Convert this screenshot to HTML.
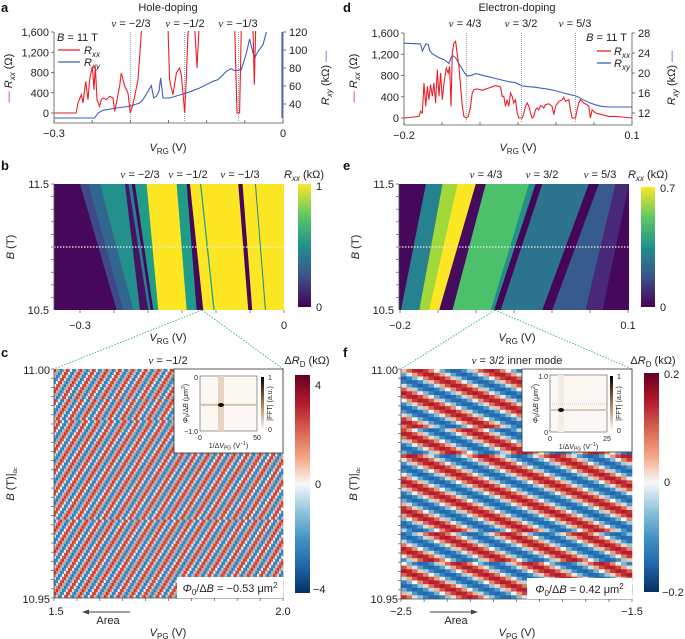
<!DOCTYPE html>
<html><head><meta charset="utf-8">
<style>
html,body{margin:0;padding:0;background:#fff;}
svg{display:block;font-family:"Liberation Sans",sans-serif;}
.t{font-size:11px;fill:#222;}
.s{font-size:7px;fill:#222;}
.nu{font-family:"Liberation Serif",serif;font-style:italic;}
.lt{font-size:13px;font-weight:bold;fill:#111;}
</style></head><body>
<svg id="fig" width="685" height="639" viewBox="0 0 685 639" xmlns="http://www.w3.org/2000/svg">
<defs>
<clipPath id="clipA"><rect x="54" y="31" width="229" height="93"/></clipPath>
<clipPath id="clipD"><rect x="404" y="31" width="228" height="93"/></clipPath>
<clipPath id="clipB"><rect x="54" y="184" width="230" height="126"/></clipPath>
<clipPath id="clipE"><rect x="399" y="184" width="230" height="126"/></clipPath>
<linearGradient id="vir" x1="0" y1="1" x2="0" y2="0">
<stop offset="0" stop-color="#440154"/><stop offset="0.25" stop-color="#3b528b"/><stop offset="0.5" stop-color="#21918c"/><stop offset="0.75" stop-color="#5ec962"/><stop offset="1" stop-color="#fde725"/></linearGradient>
<linearGradient id="rdbu" x1="0" y1="1" x2="0" y2="0">
<stop offset="0" stop-color="#053061"/><stop offset="0.125" stop-color="#2166ac"/><stop offset="0.25" stop-color="#4393c3"/><stop offset="0.375" stop-color="#92c5de"/><stop offset="0.5" stop-color="#f7f7f7"/><stop offset="0.625" stop-color="#f4a582"/><stop offset="0.75" stop-color="#d6604d"/><stop offset="0.875" stop-color="#b2182b"/><stop offset="1" stop-color="#67001f"/></linearGradient>
<linearGradient id="fftc" x1="0" y1="1" x2="0" y2="0"><stop offset="0" stop-color="#fff"/><stop offset="0.5" stop-color="#b07a4a"/><stop offset="1" stop-color="#000"/></linearGradient>
</defs>

<text class="lt" x="1" y="12">a</text>
<text class="lt" x="1" y="170">b</text>
<text class="lt" x="1" y="357">c</text>
<text class="lt" x="343" y="12">d</text>
<text class="lt" x="343" y="170">e</text>
<text class="lt" x="343" y="357">f</text>

<g>
<text class="t" x="168" y="11" text-anchor="middle" font-size="12">Hole-doping</text>
<text class="t" x="131" y="27" text-anchor="middle"><tspan class="nu">ν</tspan> = −2/3</text>
<text class="t" x="185" y="27" text-anchor="middle"><tspan class="nu">ν</tspan> = −1/2</text>
<text class="t" x="238" y="27" text-anchor="middle"><tspan class="nu">ν</tspan> = −1/3</text>
<text class="t" x="168" y="151" text-anchor="middle"><tspan font-style="italic">V</tspan><tspan font-size="8" dy="3">RG</tspan><tspan dy="-3"> (V)</tspan></text>
<text class="t" transform="translate(12,78) rotate(-90)" text-anchor="middle"><tspan fill="#e8202a">—</tspan> <tspan font-style="italic">R</tspan><tspan font-size="8" font-style="italic" dy="3">xx</tspan><tspan dy="-3"> (Ω)</tspan></text>
<text class="t" transform="translate(329,78) rotate(-90)" text-anchor="middle"><tspan font-style="italic">R</tspan><tspan font-size="8" font-style="italic" dy="3">xy</tspan><tspan dy="-3"> (kΩ) </tspan><tspan fill="#3a62c0">—</tspan></text>
<text class="t" x="57" y="41" font-size="12"><tspan font-style="italic">B</tspan> = 11 T</text>
<line x1="58" y1="50" x2="80" y2="50" stroke="#e8202a" stroke-width="1.3"/>
<text class="t" x="84" y="54" font-style="italic" font-size="12">R<tspan font-size="8" dy="3">xx</tspan></text>
<line x1="58" y1="62" x2="80" y2="62" stroke="#3a62c0" stroke-width="1.3"/>
<text class="t" x="84" y="66" font-style="italic" font-size="12">R<tspan font-size="8" dy="3">xy</tspan></text>
</g>

<g>
<text class="t" x="517" y="11" text-anchor="middle" font-size="12">Electron-doping</text>
<text class="t" x="465" y="27" text-anchor="middle"><tspan class="nu">ν</tspan> = 4/3</text>
<text class="t" x="521" y="27" text-anchor="middle"><tspan class="nu">ν</tspan> = 3/2</text>
<text class="t" x="575" y="27" text-anchor="middle"><tspan class="nu">ν</tspan> = 5/3</text>
<text class="t" x="518" y="151" text-anchor="middle"><tspan font-style="italic">V</tspan><tspan font-size="8" dy="3">RG</tspan><tspan dy="-3"> (V)</tspan></text>
<text class="t" transform="translate(357,78) rotate(-90)" text-anchor="middle"><tspan fill="#e8202a">—</tspan> <tspan font-style="italic">R</tspan><tspan font-size="8" font-style="italic" dy="3">xx</tspan><tspan dy="-3"> (Ω)</tspan></text>
<text class="t" transform="translate(675,78) rotate(-90)" text-anchor="middle"><tspan font-style="italic">R</tspan><tspan font-size="8" font-style="italic" dy="3">xy</tspan><tspan dy="-3"> (kΩ) </tspan><tspan fill="#3a62c0">—</tspan></text>
<text class="t" x="627" y="41" text-anchor="end" font-size="12"><tspan font-style="italic">B</tspan> = 11 T</text>
<line x1="597" y1="51" x2="611" y2="51" stroke="#e8202a" stroke-width="1.3"/>
<text class="t" x="614" y="55" font-style="italic" font-size="12">R<tspan font-size="8" dy="3">xx</tspan></text>
<line x1="597" y1="63" x2="611" y2="63" stroke="#3a62c0" stroke-width="1.3"/>
<text class="t" x="614" y="67" font-style="italic" font-size="12">R<tspan font-size="8" dy="3">xy</tspan></text>
</g>

<g>
<text class="t" x="140" y="178" text-anchor="middle"><tspan class="nu">ν</tspan> = −2/3</text>
<text class="t" x="188" y="178" text-anchor="middle"><tspan class="nu">ν</tspan> = −1/2</text>
<text class="t" x="240" y="178" text-anchor="middle"><tspan class="nu">ν</tspan> = −1/3</text>
<text class="t" x="304" y="178" text-anchor="middle"><tspan font-style="italic">R</tspan><tspan font-size="8" font-style="italic" dy="3">xx</tspan><tspan dy="-3"> (kΩ)</tspan></text>
<text class="t" transform="translate(14,247) rotate(-90)" text-anchor="middle"><tspan font-style="italic">B</tspan> (T)</text>
<text class="t" x="49" y="188" text-anchor="end">11.5</text>
<text class="t" x="49" y="314" text-anchor="end">10.5</text>
<text class="t" x="80" y="329" text-anchor="middle">−0.3</text>
<text class="t" x="284" y="329" text-anchor="middle">0</text>
<text class="t" x="168" y="341" text-anchor="middle"><tspan font-style="italic">V</tspan><tspan font-size="8" dy="3">RG</tspan><tspan dy="-3"> (V)</tspan></text>
<rect x="298" y="184" width="13" height="123" fill="url(#vir)"/>
<text class="t" x="316" y="190">1</text>
<text class="t" x="316" y="311">0</text>
</g>
<g>
<text class="t" x="486" y="178" text-anchor="middle"><tspan class="nu">ν</tspan> = 4/3</text>
<text class="t" x="542" y="178" text-anchor="middle"><tspan class="nu">ν</tspan> = 3/2</text>
<text class="t" x="600" y="178" text-anchor="middle"><tspan class="nu">ν</tspan> = 5/3</text>
<text class="t" x="648" y="178" text-anchor="middle"><tspan font-style="italic">R</tspan><tspan font-size="8" font-style="italic" dy="3">xx</tspan><tspan dy="-3"> (kΩ)</tspan></text>
<text class="t" transform="translate(359,247) rotate(-90)" text-anchor="middle"><tspan font-style="italic">B</tspan> (T)</text>
<text class="t" x="394" y="188" text-anchor="end">11.5</text>
<text class="t" x="394" y="314" text-anchor="end">10.5</text>
<text class="t" x="400" y="329" text-anchor="middle">−0.2</text>
<text class="t" x="628" y="329" text-anchor="middle">0.1</text>
<text class="t" x="517" y="341" text-anchor="middle"><tspan font-style="italic">V</tspan><tspan font-size="8" dy="3">RG</tspan><tspan dy="-3"> (V)</tspan></text>
<rect x="641" y="187" width="14" height="120" fill="url(#vir)"/>
<text class="t" x="660" y="192">0.7</text>
<text class="t" x="660" y="311">0</text>
</g>

<g>
<text class="t" x="168" y="364" text-anchor="middle"><tspan class="nu">ν</tspan> = −1/2</text>
<text class="t" x="307" y="364" text-anchor="middle">Δ<tspan font-style="italic">R</tspan><tspan font-size="8" dy="3">D</tspan><tspan dy="-3"> (kΩ)</tspan></text>
<text class="t" transform="translate(14,484) rotate(-90)" text-anchor="middle"><tspan font-style="italic">B</tspan> (T)|<tspan font-size="6" dy="3">α<tspan font-size="5">c</tspan></tspan></text>
<text class="t" x="50" y="374" text-anchor="end">11.00</text>
<text class="t" x="50" y="603" text-anchor="end">10.95</text>
<text class="t" x="56" y="615" text-anchor="middle">1.5</text>
<text class="t" x="283" y="615" text-anchor="middle">2.0</text>
<line x1="130" y1="612" x2="85" y2="612" stroke="#444" stroke-width="1"/>
<path d="M82 612 L89 609.5 L89 614.5 Z" fill="#444"/>
<text class="t" x="108" y="624" text-anchor="middle">Area</text>
<text class="t" x="168" y="636" text-anchor="middle"><tspan font-style="italic">V</tspan><tspan font-size="8" dy="3">PG</tspan><tspan dy="-3"> (V)</tspan></text>
<rect x="295" y="375" width="15" height="218" fill="url(#rdbu)"/>
<text class="t" x="315" y="389">4</text>
<text class="t" x="315" y="488">0</text>
<text class="t" x="313" y="593">−4</text>
</g>
<g>
<text class="t" x="517" y="364" text-anchor="middle"><tspan class="nu">ν</tspan> = 3/2 inner mode</text>
<text class="t" x="653" y="364" text-anchor="middle">Δ<tspan font-style="italic">R</tspan><tspan font-size="8" dy="3">D</tspan><tspan dy="-3"> (kΩ)</tspan></text>
<text class="t" transform="translate(357,484) rotate(-90)" text-anchor="middle"><tspan font-style="italic">B</tspan> (T)|<tspan font-size="6" dy="3">α<tspan font-size="5">c</tspan></tspan></text>
<text class="t" x="398" y="374" text-anchor="end">11.00</text>
<text class="t" x="398" y="603" text-anchor="end">10.95</text>
<text class="t" x="401" y="615" text-anchor="middle">−2.5</text>
<text class="t" x="632" y="615" text-anchor="middle">−1.5</text>
<line x1="430" y1="612" x2="475" y2="612" stroke="#444" stroke-width="1"/>
<path d="M478 612 L471 609.5 L471 614.5 Z" fill="#444"/>
<text class="t" x="456" y="624" text-anchor="middle">Area</text>
<text class="t" x="517" y="636" text-anchor="middle"><tspan font-style="italic">V</tspan><tspan font-size="8" dy="3">PG</tspan><tspan dy="-3"> (V)</tspan></text>
<rect x="644" y="373" width="15" height="219" fill="url(#rdbu)"/>
<text class="t" x="664" y="378">0.2</text>
<text class="t" x="664" y="486">0</text>
<text class="t" x="662" y="596">−0.2</text>
</g>

<g id="dyn"></g>
</svg>
<script>
// ---------- Panel a data ----------
const aRxxV=[-0.300,-0.271,-0.2686,-0.2642,-0.2620,-0.2585,-0.2555,-0.2533,-0.2498,-0.2476,-0.2459,-0.2437,-0.2402,-0.2380,-0.2358,-0.2314,-0.2271,-0.2227,-0.2205,-0.2183,-0.2140,-0.2118,-0.2074,-0.2031,-0.2000,-0.1974,-0.1943,-0.1900,-0.1856,-0.1843,null,-0.1507,-0.1485,-0.1463,-0.1441,-0.1397,-0.1354,-0.1332,-0.1288,-0.1266,-0.1244,-0.1222,null,-0.1157,-0.1127,-0.1100,null,-0.0633,-0.0603,-0.0568,-0.0546,null,-0.0393,-0.0376,-0.0358];
const aRxxVal=[0,0,198,362,198,625,263,658,922,461,922,263,132,263,296,263,329,296,33,198,527,790,527,395,0,132,329,658,1580,1680,null,1680,659,494,362,790,889,757,0,724,1580,1680,null,1680,889,1680,null,1680,0,0,1680,null,1680,560,1680];
const aRxyV=[-0.300,-0.2467,-0.2424,-0.2358,-0.2183,-0.2009,-0.1943,-0.1878,-0.1834,-0.1769,-0.1725,-0.1694,-0.1659,-0.1624,-0.1603,-0.1572,-0.1485,-0.1310,-0.1201,-0.1092,-0.0917,-0.0851,-0.0742,-0.0677,-0.0633,-0.0546,-0.0480,-0.0437,-0.0393,-0.0371,-0.0328,-0.0262,-0.0218];
const aRxyVal=[24.4,24.4,30.0,33.0,35.6,37.4,39.3,41.1,44.8,54.1,60.4,46.7,48.5,54.1,68.9,46.7,46.7,51.1,54.1,57.8,65.2,67.0,76.3,79.3,77.0,78.1,96.7,112.2,96.7,91.1,98.5,105.9,120];
const aNuV=[-0.200,-0.1288,-0.0581];
const aLeftTicks=[0,400,800,1200,1600];
const aLeftLabels=["0","400","800","1,200","1,600"];
const aRightTicks=[40,60,80,100,120];
const aXTicks=[-0.3,-0.25,-0.2,-0.15,-0.1,-0.05,0];
const aXLabels=["−0.3","","","","","","0"];
// ---------- Panel d data ----------
const dRxxV=[-0.2000,-0.1803,-0.1781,-0.1759,-0.1737,-0.1715,-0.1693,-0.1672,-0.1650,-0.1628,-0.1606,-0.1584,-0.1562,-0.1540,-0.1518,-0.1496,-0.1474,-0.1444,-0.1418,-0.1400,-0.1382,-0.1365,-0.1343,-0.1321,-0.1299,-0.1277,-0.1255,-0.1233,-0.1212,-0.1181,-0.1155,-0.1124,-0.1102,-0.1080,-0.1037,-0.0971,-0.0883,-0.0796,-0.0752,-0.0730,-0.0708,-0.0687,-0.0665,-0.0643,-0.0621,-0.0599,-0.0577,-0.0555,-0.0533,-0.0511,-0.0489,-0.0445,-0.0423,-0.0401,-0.0379,-0.0357,-0.0336,-0.0314,-0.0292,-0.0270,-0.0248,-0.0226,-0.0204,-0.0182,-0.0160,-0.0139,-0.0095,-0.0051,-0.0029,-0.0007,0.0037,0.0081,0.0102,0.0124,0.0168,0.0190,0.0212,0.0256,0.0278,0.0300,0.0321,0.0343,0.0365,0.0409,0.0431,0.0453,0.0475,0.0519,0.0606,0.0694,0.0781,0.0869,0.1000];
const dRxxVal=[0,31,126,94,659,220,596,345,628,408,659,282,910,408,847,345,659,941,847,973,220,1224,1412,1443,1192,973,596,220,31,0,31,220,471,534,547,521,565,609,596,584,408,408,220,345,220,471,408,282,345,94,0,0,94,220,282,220,94,0,31,157,188,157,232,220,188,251,270,220,63,220,314,345,389,314,345,157,0,0,157,282,345,314,282,251,220,0,157,94,63,31,31,19,0];
const dRxyV=[-0.2000,-0.1781,-0.1759,-0.1715,-0.1680,-0.1663,-0.1628,-0.1540,-0.1474,-0.1431,-0.1409,-0.1387,-0.1365,-0.1321,-0.1277,-0.1212,-0.1168,-0.1102,-0.1058,-0.0971,-0.0883,-0.0796,-0.0708,-0.0621,-0.0533,-0.0445,-0.0357,-0.0270,-0.0182,-0.0095,-0.0007,0.0081,0.0168,0.0256,0.0300,0.0343,0.0431,0.0519,0.0606,0.0694,0.1000];
const dRxyVal=[25.96,25.83,24.38,25.83,25.70,24.51,23.85,23.06,22.67,22.21,21.88,22.86,23.52,23.06,21.88,20.23,19.37,19.57,19.90,19.57,19.24,18.91,18.58,18.26,18.06,17.40,17.27,17.14,16.94,16.74,16.48,16.08,15.75,15.42,15.16,14.77,14.11,13.65,13.32,13.19,13.19];
const dNuV=[-0.1181,-0.0454,0.0256];
const dRightTicks=[12,16,20,24,28];
const dXTicks=[-0.2,-0.15,-0.1,-0.05,0,0.05,0.1];
const dXLabels=["−0.2","","","","","","0.1"];
// ---------- Panel b bands ----------
const bBandTL=[-0.3,-0.2878,-0.2706,-0.2338,-0.2289,-0.2240,-0.2192,-0.2020,-0.1579,-0.1432,-0.1383,-0.0673,-0.0609,-0.1236,-0.0428];
const bBandTR=[-0.2878,-0.2706,-0.2338,-0.2289,-0.2240,-0.2192,-0.2020,-0.1579,-0.1432,-0.1383,-0.0673,-0.0609,0,-0.1222,-0.0418];
const bBandBL=[-0.2461,-0.2363,-0.2216,-0.2118,-0.1996,-0.1960,-0.1922,-0.1849,-0.1432,-0.1285,-0.1187,-0.0526,-0.0467,-0.1040,-0.0281];
const bBandBR=[-0.2363,-0.2216,-0.2118,-0.1996,-0.1960,-0.1922,-0.1849,-0.1432,-0.1285,-0.1187,-0.0526,-0.0467,0,-0.1025,-0.0271];
const bBandVal=[0.22,0.33,0.5,0.05,0.42,0.02,0.55,1,0.55,0.02,1,0.02,1,0.6,0.5];
// ---------- Panel e bands ----------
const eBandTL=[-0.1659,-0.1440,-0.1243,-0.1003,-0.0872,-0.0303,-0.0216,-0.0128,0.0484,0.0615,0.0834];
const eBandTR=[-0.1440,-0.1243,-0.1003,-0.0872,-0.0303,-0.0216,-0.0128,0.0484,0.0615,0.0834,0.1009];
const eBandBL=[-0.1987,-0.1746,-0.1615,-0.1484,-0.1309,-0.0806,-0.0762,-0.0675,-0.0128,0.0003,0.0440];
const eBandBR=[-0.1746,-0.1615,-0.1484,-0.1309,-0.0806,-0.0762,-0.0675,-0.0128,0.0003,0.0440,0.0659];
const eBandVal=[0.31,0.6,0.7,0.02,0.5,0.35,0.01,0.27,0.01,0.2,0.08];
// ---------- Panels c,f oscillation parameters ----------
const cPeriodV=[0.0284];
const cPeriodB=[0.0046];
const cAmp=[2.6];
const cBlockEdges=[11.0,10.9934,10.9885,10.9674,10.95];
const cBlockPhase=[0,3.1,1.2,2.4];
const fPeriodV=[0.31];
const fPeriodB=[0.0062];
const fAmp=[0.15];
const fBlockEdges=[11.0,10.9874,10.9812,10.9645,10.9583,10.95];
const fBlockPhase=[0,2.5,0.6,3.0,1.4];

const NS="http://www.w3.org/2000/svg";
const dyn=document.getElementById('dyn');
function mk(tag,attrs,parent){const e=document.createElementNS(NS,tag);for(const k in attrs)e.setAttribute(k,attrs[k]);(parent||dyn).appendChild(e);return e;}
function lin(d0,d1,r0,r1){return v=>r0+(v-d0)*(r1-r0)/(d1-d0);}
function pathFrom(xs,ys,sx,sy){let d="",pen=false;for(let i=0;i<xs.length;i++){if(xs[i]===null){pen=false;continue;}d+=(pen?"L":"M")+sx(xs[i]).toFixed(1)+" "+sy(ys[i]).toFixed(1);pen=true;}return d;}
function interp(stops,t){t=Math.max(0,Math.min(1,t));const n=stops.length-1;const i=Math.min(n-1,Math.floor(t*n));const f=t*n-i;const a=stops[i],b=stops[i+1];return "rgb("+[0,1,2].map(k=>Math.round(a[k]+(b[k]-a[k])*f)).join(",")+")";}
const VIR=[[68,1,84],[72,40,120],[62,74,137],[49,104,142],[38,130,142],[31,158,137],[53,183,121],[109,205,89],[180,222,44],[253,231,37]];
const RDBU=[[5,48,97],[33,102,172],[67,147,195],[146,197,222],[247,247,247],[244,165,130],[214,96,77],[178,24,43],[103,0,31]];

function linePanel(o){
  const g=mk('g',{});
  
  
  const sx=lin(o.x0,o.x1,o.px0,o.px1), syL=lin(o.l0,o.l1,o.py0L,o.py1L), syR=lin(o.r0,o.r1,o.py0R,o.py1R);
  o.nu.forEach((v,i)=>{const l=mk('line',{x1:sx(v),x2:sx(v),y1:o.top,y2:o.bot-2,stroke:'#888','stroke-width':0.8,'stroke-dasharray':'1,1'},g);
    
    });
  const cg=mk('g',{'clip-path':'url(#'+o.clip+')'},g);
  const pr=mk('path',{d:pathFrom(o.rxyV,o.rxyVal,sx,syR),fill:'none',stroke:'#3a62c0','stroke-width':1.1},cg);
  
  
  const px=mk('path',{d:pathFrom(o.rxxV,o.rxxVal,sx,syL),fill:'none',stroke:'#e8202a','stroke-width':1.1},cg);
  
  
  const ax=mk('path',{d:`M${o.px0} ${o.top}V${o.bot}H${o.px1}V${o.top}`,fill:'none',stroke:'#555','stroke-width':0.8},g);
  
  
  o.lt.forEach((v,i)=>{mk('line',{x1:o.px0-3,x2:o.px0,y1:syL(v),y2:syL(v),stroke:'#555','stroke-width':0.8},g);
    const t=mk('text',{x:o.px0-5,y:syL(v)+4,'text-anchor':'end',class:'t','font-size':12},g);t.textContent=o.ll[i];
    
    });
  o.rt.forEach(v=>{mk('line',{x1:o.px1,x2:o.px1+3,y1:syR(v),y2:syR(v),stroke:'#555','stroke-width':0.8},g);
    const t=mk('text',{x:o.px1+6,y:syR(v)+4,class:'t','font-size':12},g);t.textContent=String(v);
    
    });
  o.xt.forEach((v,i)=>{mk('line',{x1:sx(v),x2:sx(v),y1:o.bot,y2:o.bot-3,stroke:'#555','stroke-width':0.8},g);
    if(o.xl[i]){const t=mk('text',{x:sx(v),y:o.bot+14,'text-anchor':'middle',class:'t','font-size':12},g);t.textContent=o.xl[i];
    
    }});
}
linePanel({name:'a',x0:-0.3,x1:0,px0:54,px1:283,l0:0,l1:1600,py0L:113,py1L:32,r0:40,r1:120,py0R:104,py1R:32,top:32,bot:123,clip:'clipA',
  rxxV:aRxxV,rxxVal:aRxxVal,rxyV:aRxyV,rxyVal:aRxyVal,nu:aNuV,lt:aLeftTicks,ll:aLeftLabels,rt:aRightTicks,xt:aXTicks,xl:aXLabels});
mk('line',{x1:282,x2:282,y1:32,y2:118,stroke:'#3a62c0','stroke-width':1.2});
linePanel({name:'d',x0:-0.2,x1:0.1,px0:404,px1:632,l0:0,l1:1600,py0L:118,py1L:33,r0:12,r1:28,py0R:113,py1R:33,top:33,bot:125,clip:'clipD',
  rxxV:dRxxV,rxxVal:dRxxVal,rxyV:dRxyV,rxyVal:dRxyVal,nu:dNuV,lt:aLeftTicks,ll:aLeftLabels,rt:dRightTicks,xt:dXTicks,xl:dXLabels});

function bandPanel(o){
  const g=mk('g',{'clip-path':'url(#'+o.clip+')'});
  
  
  const sx=lin(o.x0,o.x1,o.px0,o.px1);
  const bg=mk('rect',{x:o.left,y:o.top,width:o.right-o.left,height:o.bot-o.top,fill:interp(VIR,0.02)},g);
  
  
  for(let i=0;i<o.tl.length;i++){
    const p=mk('polygon',{points:`${sx(o.tl[i])},${o.top} ${sx(o.tr[i])+0.4},${o.top} ${sx(o.br[i])+0.4},${o.bot} ${sx(o.bl[i])},${o.bot}`,fill:interp(VIR,o.val[i]/o.vmax)},g);
    
    
  }
  const wl=mk('line',{x1:o.left,x2:o.right,y1:247,y2:247,stroke:'#eee','stroke-width':1.2,'stroke-dasharray':'1.5,1.5'},g);
  
  
  const ax=mk('path',{d:`M${o.left} ${o.top}V${o.bot}`,fill:'none',stroke:'#555','stroke-width':0.8});
  
  
  for(let y=o.top;y<=o.bot;y+=12.6)mk('line',{x1:o.left-3,x2:o.left,y1:y,y2:y,stroke:'#555','stroke-width':0.7});
  o.xt.forEach(v=>mk('line',{x1:sx(v),x2:sx(v),y1:o.bot,y2:o.bot+3,stroke:'#555','stroke-width':0.7}));
}
bandPanel({name:'b',clip:'clipB',x0:-0.3,x1:0,px0:80,px1:284,left:54,right:284,top:184,bot:310,tl:bBandTL,tr:bBandTR,bl:bBandBL,br:bBandBR,val:bBandVal,vmax:1,xt:[-0.3,-0.25,-0.2,-0.15,-0.1,-0.05,0]});
bandPanel({name:'e',clip:'clipE',x0:-0.2,x1:0.1,px0:400,px1:628,left:399,right:629,top:184,bot:310,tl:eBandTL,tr:eBandTR,bl:eBandBL,br:eBandBR,val:eBandVal,vmax:0.7,xt:[-0.2,-0.15,-0.1,-0.05,0,0.05,0.1]});

[[202,310,54,369],[202,310,283,369],[495,310,401,369],[495,310,632,369]].forEach(s=>{
  const l=mk('line',{x1:s[0],y1:s[1],x2:s[2],y2:s[3],stroke:'#2db36b','stroke-width':0.9,'stroke-dasharray':'1.5,1.5'});
  
  
});

function oscPanel(o){
  const g=mk('g',{});
  
  
  const cw=(o.right-o.left)/o.nc, rh=(o.bot-o.top)/o.nr;
  for(let r=0;r<o.nr;r++){
    const B=o.b1-(r+0.5)*(o.b1-o.b0)/o.nr;
    let blk=0;for(let k=0;k<o.edges.length-1;k++){if(B<=o.edges[k]&&B>=o.edges[k+1])blk=k;}
    for(let c=0;c<o.nc;c++){
      const V=o.v0+(c+0.5)*(o.v1-o.v0)/o.nc;
      const val=o.amp[0]*Math.sin(2*Math.PI*((V-o.v0)/o.pv[0]+o.sgn*(B-o.b0)/o.pb[0])+o.phase[blk]);
      const rc=mk('rect',{x:(o.left+c*cw).toFixed(2),y:(o.top+r*rh).toFixed(2),width:(cw+0.3).toFixed(2),height:(rh+0.3).toFixed(2),fill:interp(RDBU,0.5+val/(2*o.vmax))},g);
      
      
    }
  }
  const ax=mk('path',{d:`M${o.left} ${o.top}V${o.bot}H${o.right}`,fill:'none',stroke:'#555','stroke-width':0.8});
  
  
  for(let y=o.top;y<=o.bot+0.1;y+=(o.bot-o.top)/25)mk('line',{x1:o.left-3,x2:o.left,y1:y,y2:y,stroke:'#555','stroke-width':0.7});
  for(let x=o.left;x<=o.right+0.1;x+=(o.right-o.left)/10)mk('line',{x1:x,x2:x,y1:o.bot,y2:o.bot+3,stroke:'#555','stroke-width':0.7});
}
oscPanel({name:'c',v0:1.5,v1:2.0,b0:10.95,b1:11.0,left:54,right:283,top:369,bot:598,nc:115,nr:76,pv:cPeriodV,pb:cPeriodB,amp:cAmp,vmax:4,sgn:-1,edges:cBlockEdges,phase:cBlockPhase});
oscPanel({name:'f',v0:-2.5,v1:-1.5,b0:10.95,b1:11.0,left:401,right:632,top:369,bot:599,nc:42,nr:62,pv:fPeriodV,pb:fPeriodB,amp:fAmp,vmax:0.2,sgn:1,edges:fBlockEdges,phase:fBlockPhase});

function inset(o){
  const g=mk('g',{});
  
  
  mk('rect',{x:o.x,y:o.y,width:o.w,height:o.h,fill:'#fff',stroke:'#333','stroke-width':0.8},g);
  mk('rect',{x:o.px,y:o.py,width:o.pw,height:o.ph,fill:'#fbf7f3',stroke:'#555','stroke-width':0.6},g);
  mk('rect',{x:o.sx-3,y:o.py,width:6,height:o.ph,fill:o.col?'#e6d3c0':'#f5ede4'},g);
  mk('rect',{x:o.px,y:o.sy-1,width:o.pw,height:2,fill:'#dcc6b0'},g);
  mk('line',{x1:o.px,x2:o.px+o.pw,y1:o.dy,y2:o.dy,stroke:'#999','stroke-width':0.6,'stroke-dasharray':'1,1'},g);
  const sp=mk('ellipse',{cx:o.sx,cy:o.sy,rx:3,ry:2,fill:'#1a0d05'},g);
  
  
  mk('rect',{x:o.cx,y:o.py+1,width:3,height:o.ph-2,fill:'url(#fftc)'},g);
  const L=(x,y,s,anchor,rot,name)=>{const t=mk('text',{x:x,y:y,class:'s','text-anchor':anchor||'start'},g);if(rot)t.setAttribute('transform',`rotate(-90 ${x} ${y})`);t.innerHTML=s;
    
    };
  L(o.px-2,o.py+4,o.yt,'end',0,o.name+'-inset-ytick-top');
  L(o.px-2,o.py+o.ph+3,o.yb,'end',0,o.name+'-inset-ytick-bottom');
  L(o.px,o.py+o.ph+9,'0','middle',0,o.name+'-inset-xtick-0');
  L(o.px+o.pw,o.py+o.ph+9,o.xr,'middle',0,o.name+'-inset-xtick-max');
  L(o.px+o.pw/2,o.py+o.ph+17,'1/Δ<tspan font-style="italic">V</tspan><tspan font-size="5" dy="1.5">PG</tspan><tspan dy="-1.5"> (V</tspan><tspan font-size="5" dy="-3">−1</tspan><tspan dy="3">)</tspan>','middle',0,o.name+'-inset-x-title');
  L(o.px-12,o.py+o.ph/2,'<tspan font-style="italic">Φ</tspan><tspan font-size="5" dy="1.5">0</tspan><tspan dy="-1.5">/Δ</tspan><tspan font-style="italic">B</tspan> (μm<tspan font-size="5" dy="-3">2</tspan><tspan dy="3">)</tspan>','middle',1,o.name+'-inset-y-title');
  L(o.cx+7,o.py+4,'1','start',0,o.name+'-inset-cbar-1');
  L(o.cx+7,o.py+o.ph+1,'0','start',0,o.name+'-inset-cbar-0');
  L(o.cx+11,o.py+o.ph/2,'|FFT| (a.u.)','middle',1,o.name+'-inset-cbar-title');
}
inset({name:'c',x:174,y:369,w:109,h:84,px:200,py:376,pw:57,ph:55,sx:221,sy:405,dy:404,cx:261,yt:'0',yb:'−1.0',xr:'50',col:true});
inset({name:'f',x:522,y:369,w:110,h:83,px:550,py:375,pw:57,ph:57,sx:561,sy:410,dy:404,cx:610,yt:'1.0',yb:'0',xr:'25',col:false});

[[177,577,106,21,'c','−0.53'],[527,578,105,21,'f','0.42']].forEach(b=>{
  const r=mk('rect',{x:b[0],y:b[1],width:b[2],height:b[3],fill:'#fff'});
  
  
  const t=mk('text',{x:b[0]+b[2]/2,y:b[1]+15,class:'t','text-anchor':'middle','font-size':12});
  t.innerHTML='<tspan font-style="italic">Φ</tspan><tspan font-size="8" dy="3">0</tspan><tspan dy="-3">/Δ</tspan><tspan font-style="italic">B</tspan> = '+b[5]+' μm<tspan font-size="8" dy="-4">2</tspan>';
  
  
});
</script>
</body></html>
